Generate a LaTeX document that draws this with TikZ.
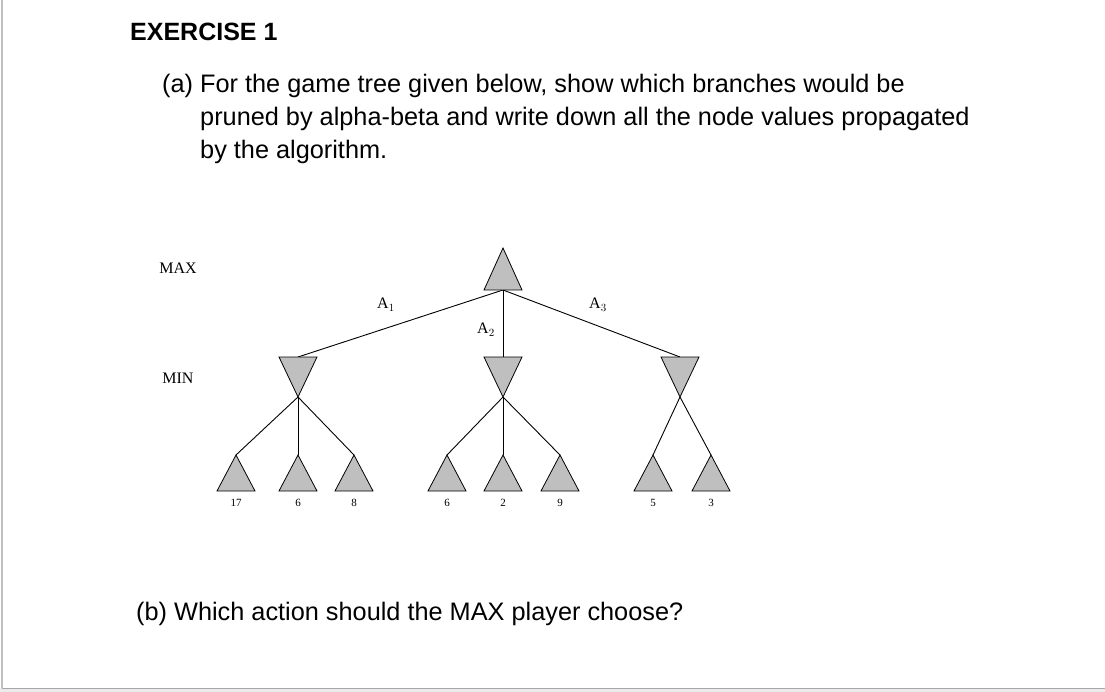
\documentclass[tikz,border=0pt]{standalone}
\usepackage{fontspec}
\setmainfont{Liberation Sans}
\newfontfamily\tms{Liberation Serif}
\begin{document}
\begin{tikzpicture}[x=1pt,y=-1pt,
  body/.style={anchor=base west,inner sep=0,font=\fontsize{25.3}{30}\selectfont},
  lab/.style={inner sep=0,font=\tms\fontsize{16}{18}\selectfont},
  num/.style={inner sep=0,font=\tms\fontsize{11}{13}\selectfont},
  tri/.style={fill=black!25,draw=black,line width=0.8pt,line join=miter},
  edge/.style={draw=black,line width=0.9pt}]
\useasboundingbox (0,0) rectangle (1105,692);
\fill[white] (0,0) rectangle (1105,692);
\draw[black!25,line width=1.5pt] (2,0) -- (2,688);
\fill[black!8] (0,688) rectangle (1105,692);
\draw[black!35,line width=1pt] (2,688) -- (1105,688);
% text
\node[anchor=base west,inner sep=0,font=\bfseries\fontsize{25}{30}\selectfont] (t) at (130,41) {EXERCISE 1};
\node[body] (a1) at (162,93) {(a) For the game tree given below, show which branches would be};
\node[body] (a2) at (200,126) {pruned by alpha-beta and write down all the node values propagated};
\node[body] (a3) at (200,159) {by the algorithm.};
\node[body] (b) at (136,620) {(b) Which action should the MAX player choose?};
\node[lab] (max) at (178,268) {MAX};
\node[lab] (min) at (178,378) {MIN};
% coordinates
\coordinate (r) at (503,290);
\foreach \n/\x in {L/298,M/503,R/680}{
  \coordinate (\n) at (\x,357);
  \coordinate (\n b) at (\x,397);
}
\foreach \n/\x in {l1/236,l2/298,l3/354,m1/447,m2/503,m3/560,r1/653,r2/711}{
  \coordinate (\n) at (\x,455);
}
% edges
\draw[edge] (r) -- (L);
\draw[edge] (r) -- (M);
\draw[edge] (r) -- (R);
\foreach \p/\c in {L/l1,L/l2,L/l3,M/m1,M/m2,M/m3,R/r1,R/r2}{
  \draw[edge] (\p b) -- (\c);
}
% triangles
\draw[tri] (503,248) -- (522,290) -- (484,290) -- cycle;
\foreach \x in {298,503,680}{
  \draw[tri] (\x-19,357) -- (\x+19,357) -- (\x,397) -- cycle;
}
\foreach \x/\v in {236/17,298/6,354/8,447/6,503/2,560/9,653/5,711/3}{
  \draw[tri] (\x,455) -- (\x+19,491) -- (\x-19,491) -- cycle;
  \node[num] at (\x,503) {\v};
}
\node[lab] (A1) at (386,305) {A$_1$};
\node[lab] (A2) at (486,330) {A$_2$};
\node[lab] (A3) at (598,305) {A$_3$};
\end{tikzpicture}
\end{document}
